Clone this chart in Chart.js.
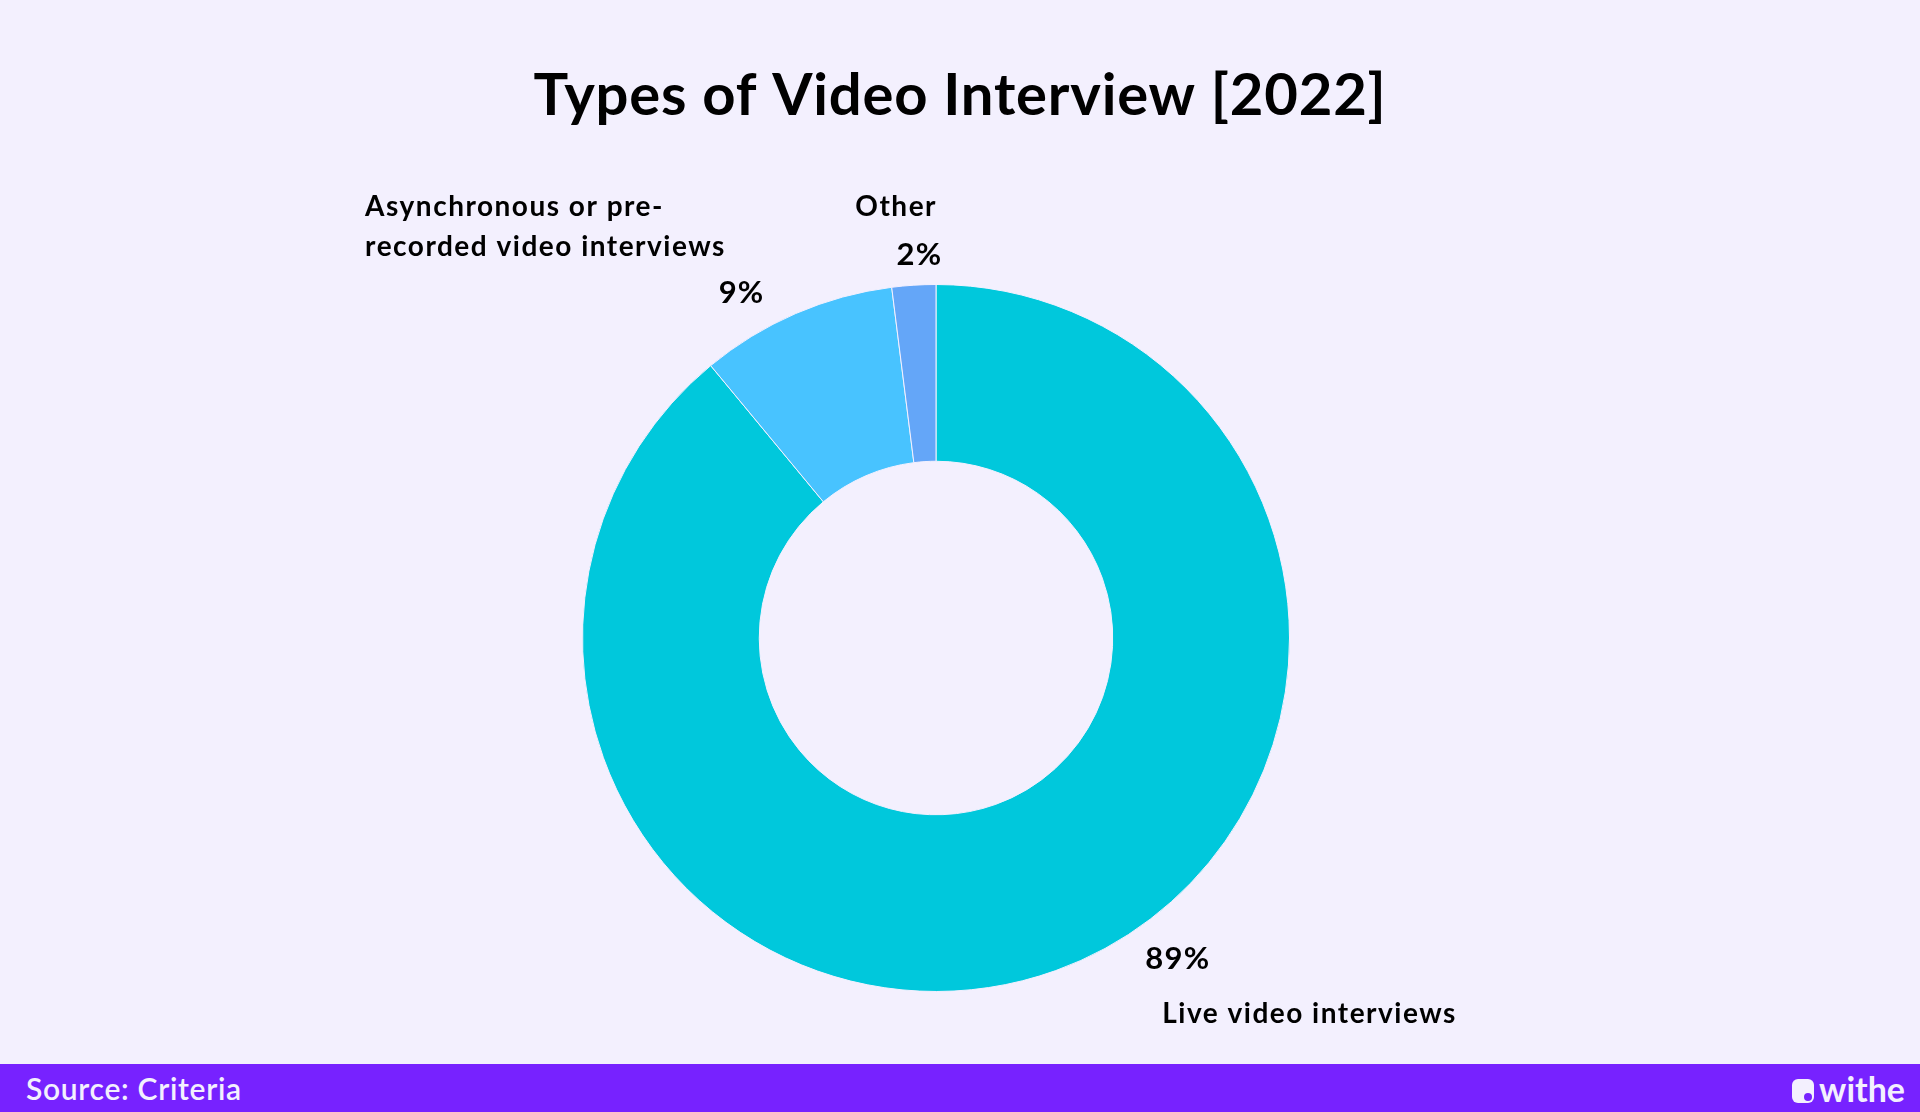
<!DOCTYPE html>
<html>
<head>
<meta charset="utf-8">
<script src="https://cdn.jsdelivr.net/npm/chart.js@4.4.0/dist/chart.umd.min.js"></script>
<style>
  html, body { margin: 0; padding: 0; background: #f3f0fe; }
  #wrap { position: relative; width: 1920px; height: 1064px; }
  #footer {
    position: relative; width: 1920px; height: 48px; background: #7722ff;
    color: #f3f0fe; font-family: Lato, sans-serif; font-weight: 600;
  }
  #source { position: absolute; left: 26px; top: 6px; font-size: 30px; letter-spacing: 0.7px; }
  #logo { position: absolute; right: 15px; top: 4px; font-size: 34px; font-weight: 700; display: flex; align-items: center; }
  #logo .icon {
    width: 22px; height: 24px; background: #f3f0fe; border-radius: 6px; margin-right: 5px;
    position: relative; margin-top: 4px;
  }
  #logo .icon::after {
    content: ''; position: absolute; right: 2px; bottom: 2px; width: 8px; height: 8px;
    border-radius: 50%; background: #7722ff;
  }
</style>
</head>
<body>
<div id="wrap"><canvas id="myChart"></canvas></div>
<div id="footer">
  <div id="source">Source: Criteria</div>
  <div id="logo"><span class="icon"></span>withe</div>
</div>
<script>
const title = 'Types of Video Interview [2022]';
const categories = ['Live video interviews', 'Asynchronous or pre-recorded video interviews', 'Other'];
const shares = [89, 9, 2];
const percentLabels = ['89%', '9%', '2%'];
const nameLines = [['Live video interviews'], ['Asynchronous or pre-', 'recorded video interviews'], ['Other']];
const colors = ['#00c8dc', '#48c3ff', '#64a6f8'];

// label anchors, in units of outer radius from the ring centre
const labelSpots = [
  { pct: [0.684, 0.935], name: [0.640, 1.088], align: 'left' },
  { pct: [-0.550, -0.949], name: [-1.615, -1.193], align: 'left' },
  { pct: [-0.047, -1.054], name: [0.003, -1.193], align: 'right' }
];

const labelFont = 'Lato, sans-serif';

const ringLabels = {
  id: 'ringLabels',
  afterDraw(chart) {
    const ctx = chart.ctx;
    const arcs = chart.getDatasetMeta(0).data;
    ctx.save();
    ctx.fillStyle = '#000';
    ctx.textBaseline = 'alphabetic';
    // title
    ctx.font = '700 58px ' + labelFont;
    ctx.letterSpacing = '0.8px';
    ctx.textAlign = 'center';
    ctx.fillText(title, chart.width / 2, 115);
    arcs.forEach((arc, i) => {
      const r = arc.outerRadius;
      const s = labelSpots[i];
      ctx.font = '700 31px ' + labelFont;
      ctx.letterSpacing = '1.2px';
      ctx.textAlign = 'center';
      ctx.fillText(percentLabels[i], arc.x + s.pct[0] * r, arc.y + s.pct[1] * r);
      ctx.font = '700 28px ' + labelFont;
      ctx.letterSpacing = '1.5px';
      ctx.textAlign = s.align;
      nameLines[i].forEach((line, j) => {
        ctx.fillText(line, arc.x + s.name[0] * r, arc.y + s.name[1] * r + j * 40);
      });
    });
    ctx.restore();
  }
};

new Chart(document.getElementById('myChart'), {
  type: 'doughnut',
  data: {
    labels: categories,
    datasets: [{
      data: shares,
      backgroundColor: colors,
      borderColor: '#f3f0fe',
      borderWidth: 1
    }]
  },
  options: {
    responsive: true,
    maintainAspectRatio: false,
    animation: false,
    cutout: '50%',
    layout: { padding: { top: 284, bottom: 72, left: 582, right: 630 } },
    plugins: {
      legend: { display: false },
      title: { display: false },
      tooltip: { enabled: false }
    }
  },
  plugins: [ringLabels]
});
</script>
</body>
</html>
